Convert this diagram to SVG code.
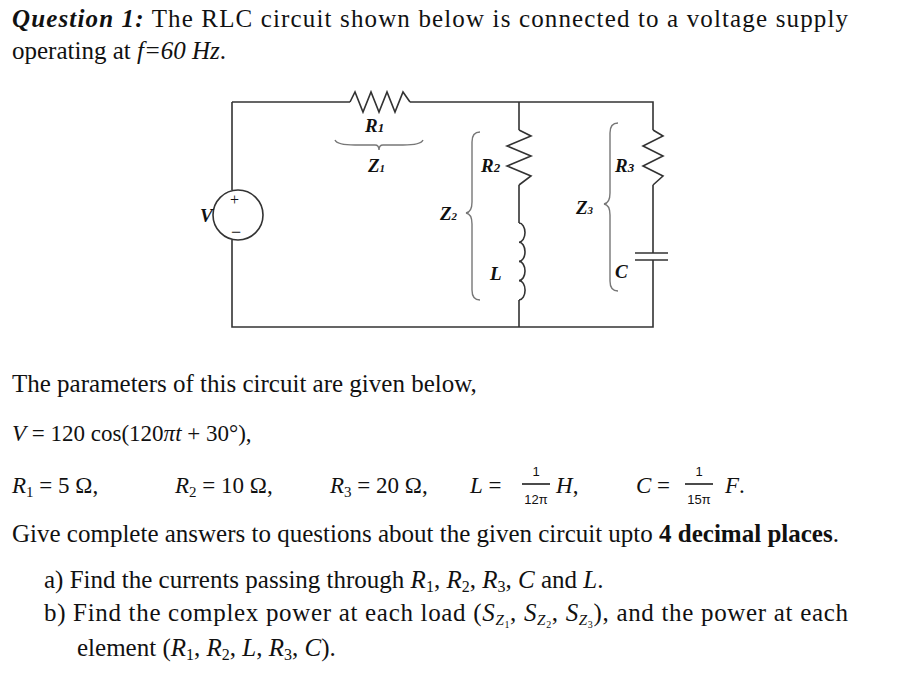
<svg xmlns="http://www.w3.org/2000/svg" width="913" height="681" viewBox="0 0 913 681">
<style>
text{font-family:"Liberation Serif","Times New Roman",serif;fill:#111}
.t{font-size:25px}
.m{font-size:23px}
.l{font-size:19px;font-weight:bold;font-style:italic}
.w{fill:none;stroke:#333;stroke-width:1.6}
.b{fill:none;stroke:#777;stroke-width:1.4}
</style>
<rect width="913" height="681" fill="#fff"/>
<text class="t" x="12" y="27" textLength="836" lengthAdjust="spacing"><tspan font-weight="bold" font-style="italic">Question 1:</tspan> The RLC circuit shown below is connected to a voltage supply</text>
<text class="t" x="12" y="59">operating at <tspan font-style="italic">f=60 Hz</tspan>.</text>
<g id="wires" class="w">
<path d="M232,102 H350 M410,102 H653 V130 M653,185 V253 M653,260 V327 H232 V240 M232,190 V102 M519,102 V130 M519,185 V223 M519,300 V327"/>
</g>
<g id="R1"><path class="w" d="M350,102 l5,-10 l8,20 l8,-20 l8,20 l8,-20 l8,20 l8,-20 l7,10"/><text class="l" x="365" y="132">R<tspan font-size="13">1</tspan></text></g>
<g id="Z1"><path class="b" d="M335,140 q2,5 20,5 h20 q4,0 4,5 q0,-5 4,-5 h20 q18,0 20,-5"/><text class="l" x="368" y="172" font-size="16">Z<tspan font-size="11">1</tspan></text></g>
<g id="V"><circle class="w" cx="238" cy="215" r="25"/><text x="230" y="205" font-size="16">+</text><text x="231" y="238" font-size="18">−</text><text class="l" x="200" y="222" font-size="17">V</text></g>
<g id="R2"><path class="w" d="M519,130 l12,6 l-24,10 l24,10 l-24,10 l24,10 l-12,9"/><text class="l" x="481" y="172">R<tspan font-size="13">2</tspan></text></g>
<g id="L"><path class="w" d="M519,223 a6,9.6 0 0 1 0,19.2 a6,9.6 0 0 1 0,19.2 a6,9.6 0 0 1 0,19.2 a6,9.6 0 0 1 0,19.4"/><text class="l" x="490" y="280">L</text></g>
<g id="Z2"><path class="b" d="M480,132 q-8,0 -8,10 v60 q0,10 -6,11 q6,1 6,11 v66 q0,10 8,10"/><text class="l" x="440" y="220" font-size="16">Z<tspan font-size="11">2</tspan></text></g>
<g id="R3"><path class="w" d="M653,130 l10,6 l-20,10 l20,10 l-20,10 l20,10 l-10,9"/><text class="l" x="615" y="172">R<tspan font-size="13">3</tspan></text></g>
<g id="C"><path class="w" d="M635,253 H668 M635,260 H668"/><text class="l" x="615" y="278">C</text></g>
<g id="Z3"><path class="b" d="M618,123 q-8,0 -8,10 v60 q0,10 -6,11 q6,1 6,11 v66 q0,10 8,10"/><text class="l" x="576" y="214" font-size="16">Z<tspan font-size="11">3</tspan></text></g>
<text class="t" x="12" y="392">The parameters of this circuit are given below,</text>
<text class="m" x="12" y="441" font-size="24"><tspan font-style="italic">V</tspan> = 120 cos(120<tspan font-style="italic">πt</tspan> + 30°),</text>
<g class="m">
<text x="12" y="493"><tspan font-style="italic">R</tspan><tspan font-size="15" dy="4">1</tspan><tspan dy="-4"> = 5 Ω,</tspan></text>
<text x="175" y="493"><tspan font-style="italic">R</tspan><tspan font-size="15" dy="4">2</tspan><tspan dy="-4"> = 10 Ω,</tspan></text>
<text x="330" y="493"><tspan font-style="italic">R</tspan><tspan font-size="15" dy="4">3</tspan><tspan dy="-4"> = 20 Ω,</tspan></text>
<text x="470" y="493"><tspan font-style="italic">L</tspan> =</text>
<text x="556" y="493"><tspan font-style="italic">H</tspan>,</text>
<text x="636" y="493"><tspan font-style="italic">C</tspan> =</text>
<text x="725" y="493"><tspan font-style="italic">F</tspan>.</text>
</g>
<g font-size="13">
<text x="536" y="476" text-anchor="middle" style="font-family:'Liberation Sans',sans-serif">1</text>
<text x="536" y="504" text-anchor="middle" style="font-family:'Liberation Sans',sans-serif">12π</text>
<text x="699" y="476" text-anchor="middle" style="font-family:'Liberation Sans',sans-serif">1</text>
<text x="699" y="504" text-anchor="middle" style="font-family:'Liberation Sans',sans-serif">15π</text>
</g>
<path d="M522,484 H550 M685,484 H713" stroke="#111" stroke-width="1.3"/>
<text class="t" x="12" y="542">Give complete answers to questions about the given circuit upto <tspan font-weight="bold">4 decimal places</tspan>.</text>
<text class="t" x="44" y="588">a)  Find the currents passing through <tspan font-style="italic">R</tspan><tspan font-size="16" dy="4">1</tspan><tspan dy="-4">, </tspan><tspan font-style="italic">R</tspan><tspan font-size="16" dy="4">2</tspan><tspan dy="-4">, </tspan><tspan font-style="italic">R</tspan><tspan font-size="16" dy="4">3</tspan><tspan dy="-4">, </tspan><tspan font-style="italic">C</tspan> and <tspan font-style="italic">L</tspan>.</text>
<text class="t" x="44" y="621" textLength="804" lengthAdjust="spacing">b)  Find the complex power at each load (<tspan font-style="italic">S</tspan><tspan font-size="15" dy="4" font-style="italic">Z</tspan><tspan font-size="10" dy="3">1</tspan><tspan dy="-7">, </tspan><tspan font-style="italic">S</tspan><tspan font-size="15" dy="4" font-style="italic">Z</tspan><tspan font-size="10" dy="3">2</tspan><tspan dy="-7">, </tspan><tspan font-style="italic">S</tspan><tspan font-size="15" dy="4" font-style="italic">Z</tspan><tspan font-size="10" dy="3">3</tspan><tspan dy="-7">), and the power at each</tspan></text>
<text class="t" x="77" y="656">element (<tspan font-style="italic">R</tspan><tspan font-size="16" dy="4">1</tspan><tspan dy="-4">, </tspan><tspan font-style="italic">R</tspan><tspan font-size="16" dy="4">2</tspan><tspan dy="-4">, </tspan><tspan font-style="italic">L</tspan>, <tspan font-style="italic">R</tspan><tspan font-size="16" dy="4">3</tspan><tspan dy="-4">, </tspan><tspan font-style="italic">C</tspan>).</text>
</svg>
